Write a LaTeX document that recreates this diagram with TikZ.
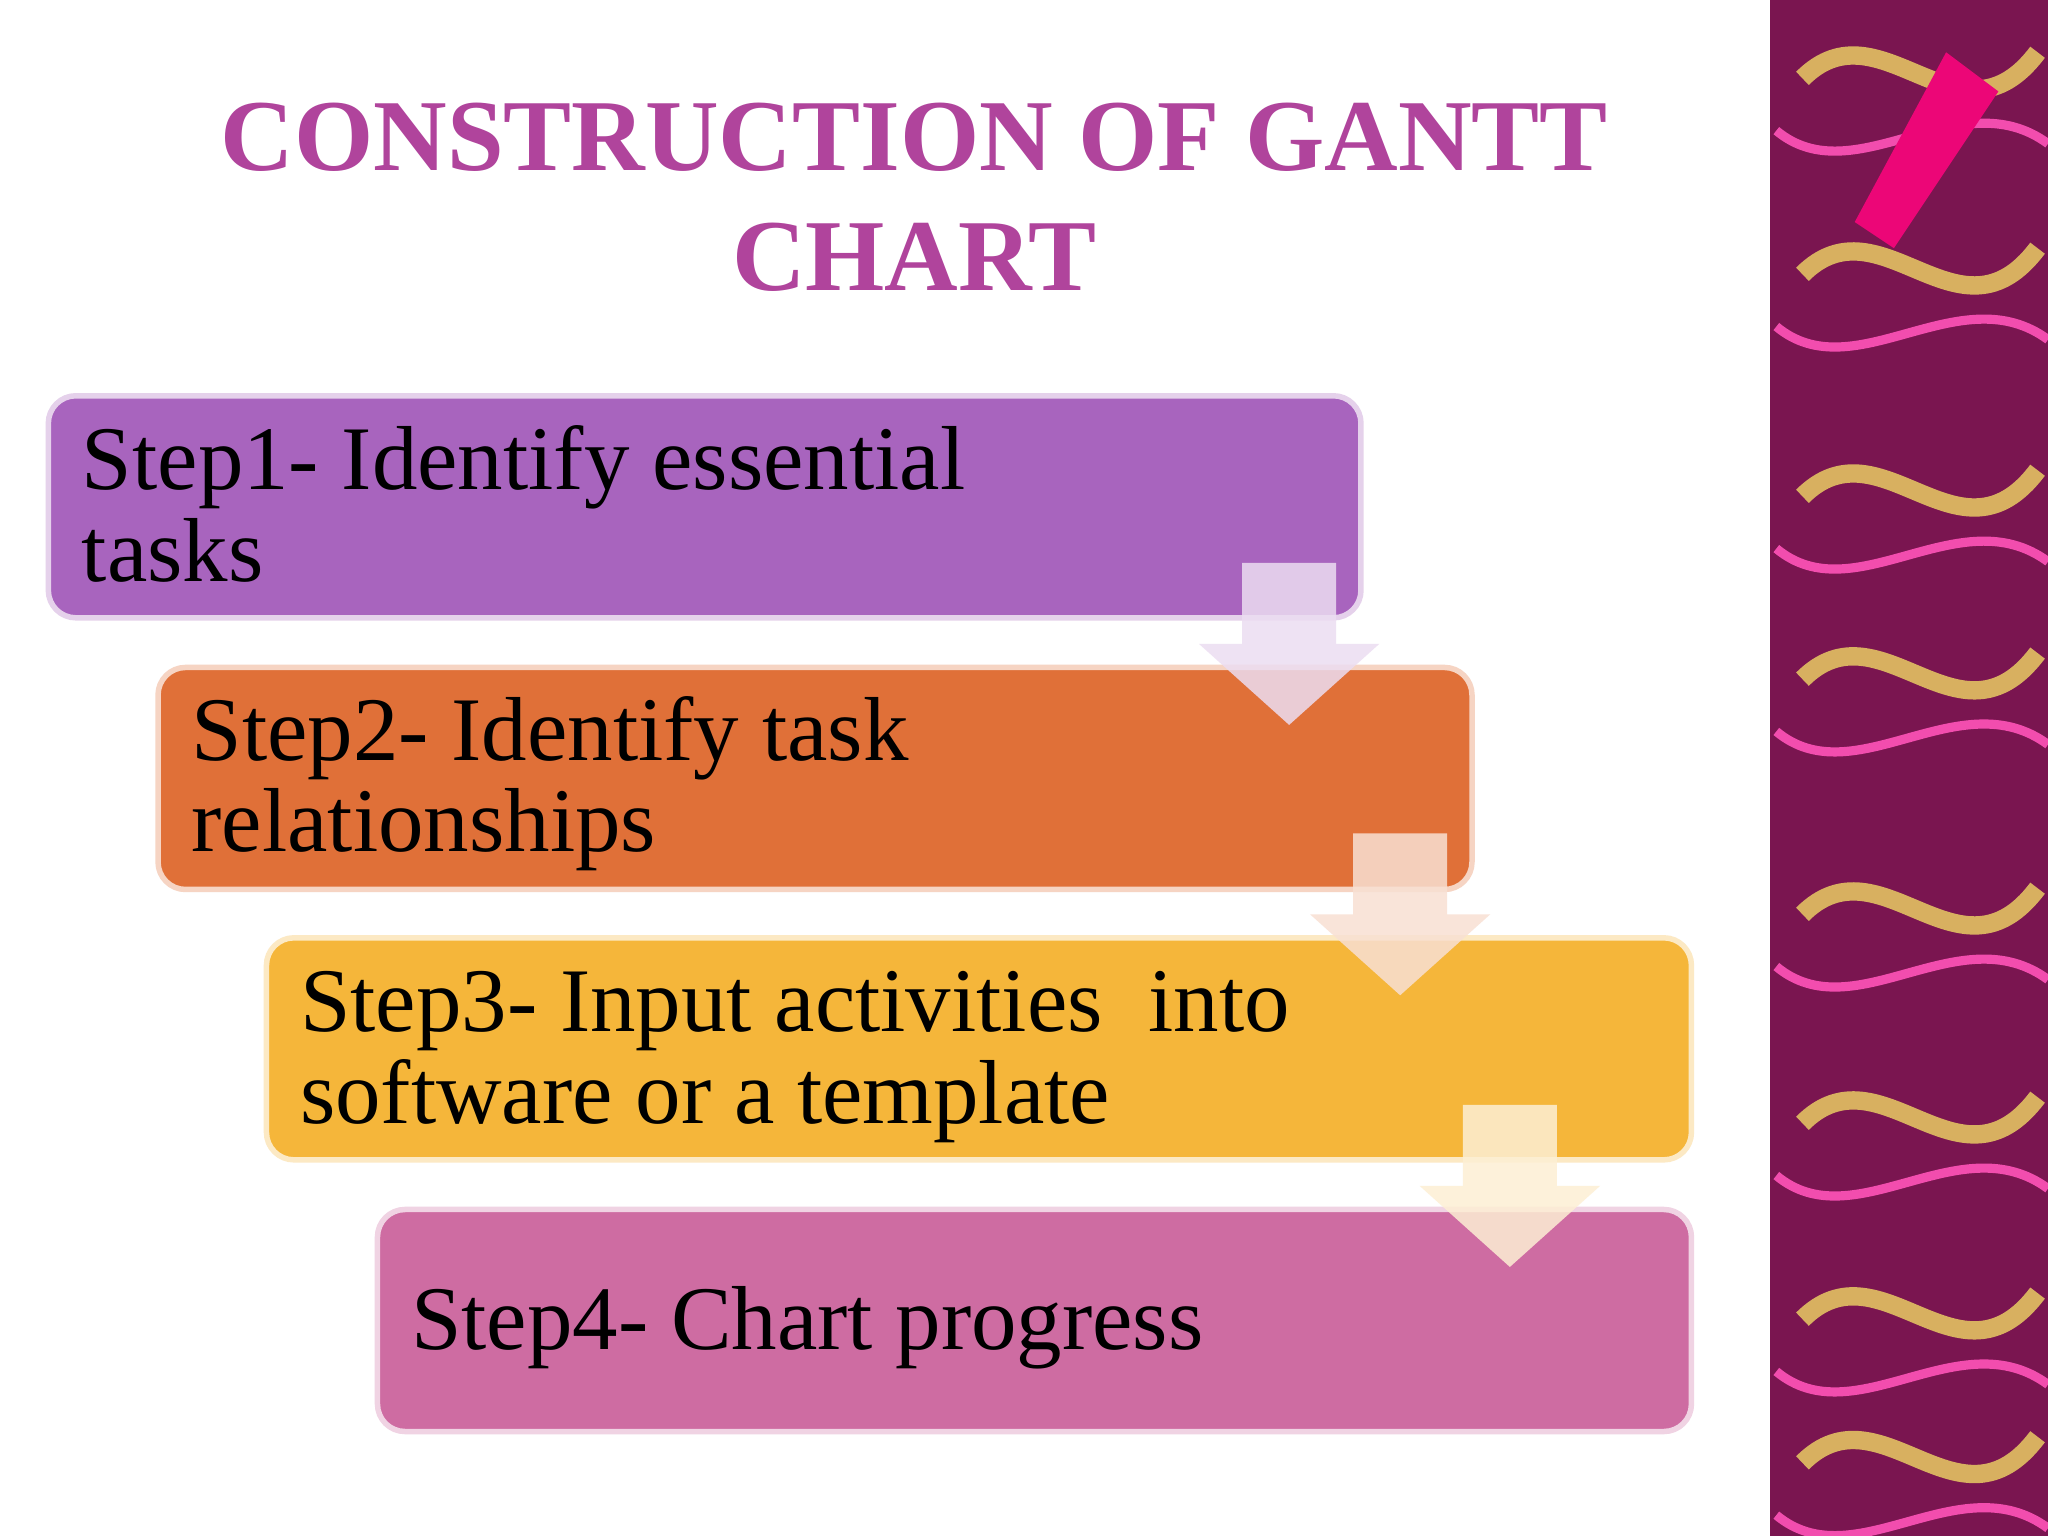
\documentclass[tikz,border=0pt]{standalone}
\usepackage{fontspec}
\setmainfont{Liberation Serif}
\usetikzlibrary{calc}
\usetikzlibrary{positioning}
\definecolor{titlecol}{HTML}{B0449C}
\definecolor{stepA}{HTML}{A864BE}
\definecolor{stepB}{HTML}{E07038}
\definecolor{stepC}{HTML}{F5B63A}
\definecolor{stepD}{HTML}{CE6CA2}
\definecolor{tinsel}{HTML}{7A1550}
\definecolor{gold}{HTML}{D8B060}
\tikzset{step/.style={rounded corners=6pt,draw=white!70!#1,line width=1.2pt,fill=#1}}
\tikzset{steptext/.style={anchor=base west,align=left,font=\fontsize{19.8}{19.9}\selectfont,inner sep=0pt}}
\tikzset{flow/.style={fill=#1!22!white,fill opacity=0.85,draw=none}}
\newcommand{\downarrowat}[3]{% colour, shaft left x, top y
  \fill[flow=#1] (#2,#3) -- ++(72,0) -- ++(0,62) -- ++(33,0) -- ++(-69,62) -- ++(-69,-62) -- ++(33,0) -- cycle;}

\begin{document}
\begin{tikzpicture}[x=0.1mm,y=-0.1mm]
\useasboundingbox (0,0) rectangle (1568,1176);
\fill[white] (0,0) rectangle (1568,1176);

% side picture
\fill[tinsel] (1355,0) rectangle (1568,1176);
\foreach \y in {60,210,380,520,700,860,1010,1120}{
  \draw[gold,line width=4pt] (1380,\y) .. controls (1440,\y-60) and (1500,\y+60) .. (1560,\y-20);
  \draw[magenta!70,line width=2pt] (1360,\y+40) .. controls (1420,\y+90) and (1500,\y) .. (1568,\y+50);
}
\fill[magenta!80!red] (1420,170) -- (1490,40) -- (1530,70) -- (1450,190) -- cycle;

% title
\node[font=\fontsize{22.2}{24}\selectfont\bfseries,text=titlecol] (title) at (700,105) {CONSTRUCTION OF GANTT};
\node[font=\fontsize{22.2}{24}\selectfont\bfseries,text=titlecol] (title2) at (700,197) {CHART};

% steps
\draw[step=stepA] (37,303) rectangle (1042,473);
\node[steptext] (s1) at (62,445) {Step1- Identify essential\\tasks};
\draw[step=stepB] (121,511) rectangle (1127,681);
\node[steptext] (s2) at (146,652) {Step2- Identify task\\relationships};
\draw[step=stepC] (204,718) rectangle (1295,888);
\node[steptext] (s3) at (229,860) {Step3- Input activities\ \ into\\software or a template};
\draw[step=stepD] (289,926) rectangle (1295,1096);
\node[steptext] (s4) at (314,1033) {Step4- Chart progress};

% arrows
\downarrowat{stepA}{951}{431}
\downarrowat{stepB}{1036}{638}
\downarrowat{stepC}{1120}{846}
\end{tikzpicture}
\end{document}
